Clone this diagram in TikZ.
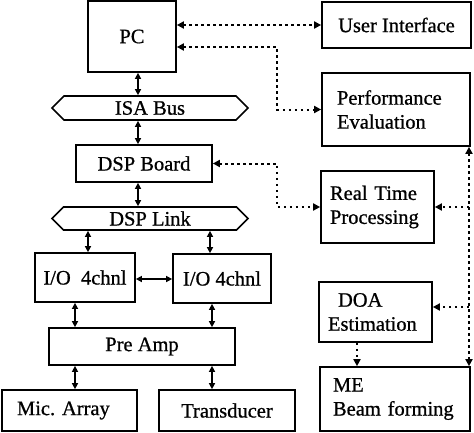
\documentclass[tikz,border=0pt]{standalone}
\usepackage{fontspec}
\setmainfont[FakeBold=0.8]{Liberation Serif}
\usetikzlibrary{arrows.meta,shapes.symbols}

\begin{document}
\begin{tikzpicture}[x=1pt,y=-1pt,
    every node/.style={font=\fontsize{20.5}{24}\selectfont},
    blk/.style={draw, line width=1.7pt, inner sep=0pt},
    txtblk/.style={blk, align=left, text width=#1},
    bus/.style={draw, line width=1.7pt, signal, signal to=west and east,
        signal pointer angle=90, minimum width=196pt, minimum height=24pt, inner sep=0pt},
    solidarr/.style={{Triangle[length=6pt,width=6pt]}-{Triangle[length=6pt,width=6pt]}, line width=1.4pt},
    dotline/.style={line width=2pt, dash pattern=on 2.5pt off 3.5pt},
    dotboth/.style={dotline, {Triangle[length=7pt,width=7pt]}-{Triangle[length=7pt,width=7pt]}},
    dotend/.style={dotline, -{Triangle[length=7pt,width=7pt]}}
]
    % Fix the page size
    \useasboundingbox (0,0) rectangle (474,432);

    % Define coordinates for the dotted bends
    \coordinate (pcbend) at (277,0);
    \coordinate (rbus) at (469,0);

    % Hardware column
    \node[blk, minimum width=88pt, minimum height=71pt] (pc) at (132,36.5) {PC};
    \node[bus] (isa) at (150,108) {ISA Bus};
    \node[blk, minimum width=136pt, minimum height=37pt] (dsp) at (144,163.5) {DSP Board};
    \node[bus, minimum height=23pt] (dsplink) at (150,218.5) {DSP Link};
    \node[blk, minimum width=100pt, minimum height=49pt] (ioa) at (85,277.5) {I/O\ \ 4chnl};
    \node[blk, minimum width=98pt, minimum height=49pt] (iob) at (222,278.5) {I/O 4chnl};
    \node[blk, minimum width=186pt, minimum height=37pt] (preamp) at (142,346.5) {Pre Amp};
    \node[txtblk=105pt, inner xsep=15pt, minimum height=41pt] (mic) at (69.5,410.5) {Mic.\ Array};
    \node[blk, minimum width=136pt, minimum height=41pt] (trans) at (227,410.5) {Transducer};

    % Software column
    \node[blk, minimum width=149pt, minimum height=46pt] (ui) at (396.5,25) {User Interface};
    \node[txtblk=118pt, inner xsep=15pt, minimum height=73pt] (perf) at (396,109.5) {Performance\\Evaluation};
    \node[txtblk=95pt, inner xsep=9pt, minimum height=72pt] (rtp) at (377.5,207) {Real Time\\Processing};
    \node[txtblk=95pt, inner xsep=9pt, minimum height=60pt] (doa) at (375.5,312) {\hspace*{10pt}DOA\\Estimation};
    \node[txtblk=124pt, inner xsep=13pt, minimum height=64pt] (me) at (395,399) {ME\\Beam forming};

    % Solid links between the hardware blocks
    \draw[solidarr] ([xshift=6pt]pc.south) -- ([xshift=6pt]pc.south |- isa.north);
    \draw[solidarr] ([xshift=-12pt]isa.south) -- ([xshift=-12pt]isa.south |- dsp.north);
    \draw[solidarr] ([xshift=-6pt]dsp.south) -- ([xshift=-6pt]dsp.south |- dsplink.north);
    \draw[solidarr] ([xshift=3pt]ioa.north |- dsplink.south) -- ([xshift=3pt]ioa.north);
    \draw[solidarr] ([xshift=-12pt]iob.north |- dsplink.south) -- ([xshift=-12pt]iob.north);
    \draw[solidarr] ([yshift=-1.5pt]ioa.east) -- ([yshift=-1.5pt]ioa.east -| iob.west);
    \draw[solidarr] ([xshift=-10pt]ioa.south) -- ([xshift=-10pt]ioa.south |- preamp.north);
    \draw[solidarr] ([xshift=-10pt]iob.south) -- ([xshift=-10pt]iob.south |- preamp.north);
    \draw[solidarr] ([xshift=5.5pt]mic.north |- preamp.south) -- ([xshift=5.5pt]mic.north);
    \draw[solidarr] ([xshift=-15pt]trans.north |- preamp.south) -- ([xshift=-15pt]trans.north);

    % Dotted links to the software blocks
    \draw[dotboth] (pc.east |- ui.west) -- (ui.west);
    \draw[dotboth] ([yshift=-10.5pt]pc.east) -| (pcbend |- perf.west) -- (perf.west);
    \draw[dotboth] (dsp.east) -| (pcbend |- rtp.west) -- (rtp.west);
    \draw[dotboth] (rbus |- perf.south) -- (rbus |- me.north);
    \draw[dotend] (rbus |- rtp.east) -- (rtp.east);
    \draw[dotend] ([yshift=5pt]doa.east -| rbus) -- ([yshift=5pt]doa.east);
    \draw[dotend] ([xshift=-18.5pt]doa.south) -- ([xshift=-18.5pt]doa.south |- me.north);

\end{tikzpicture}
\end{document}
